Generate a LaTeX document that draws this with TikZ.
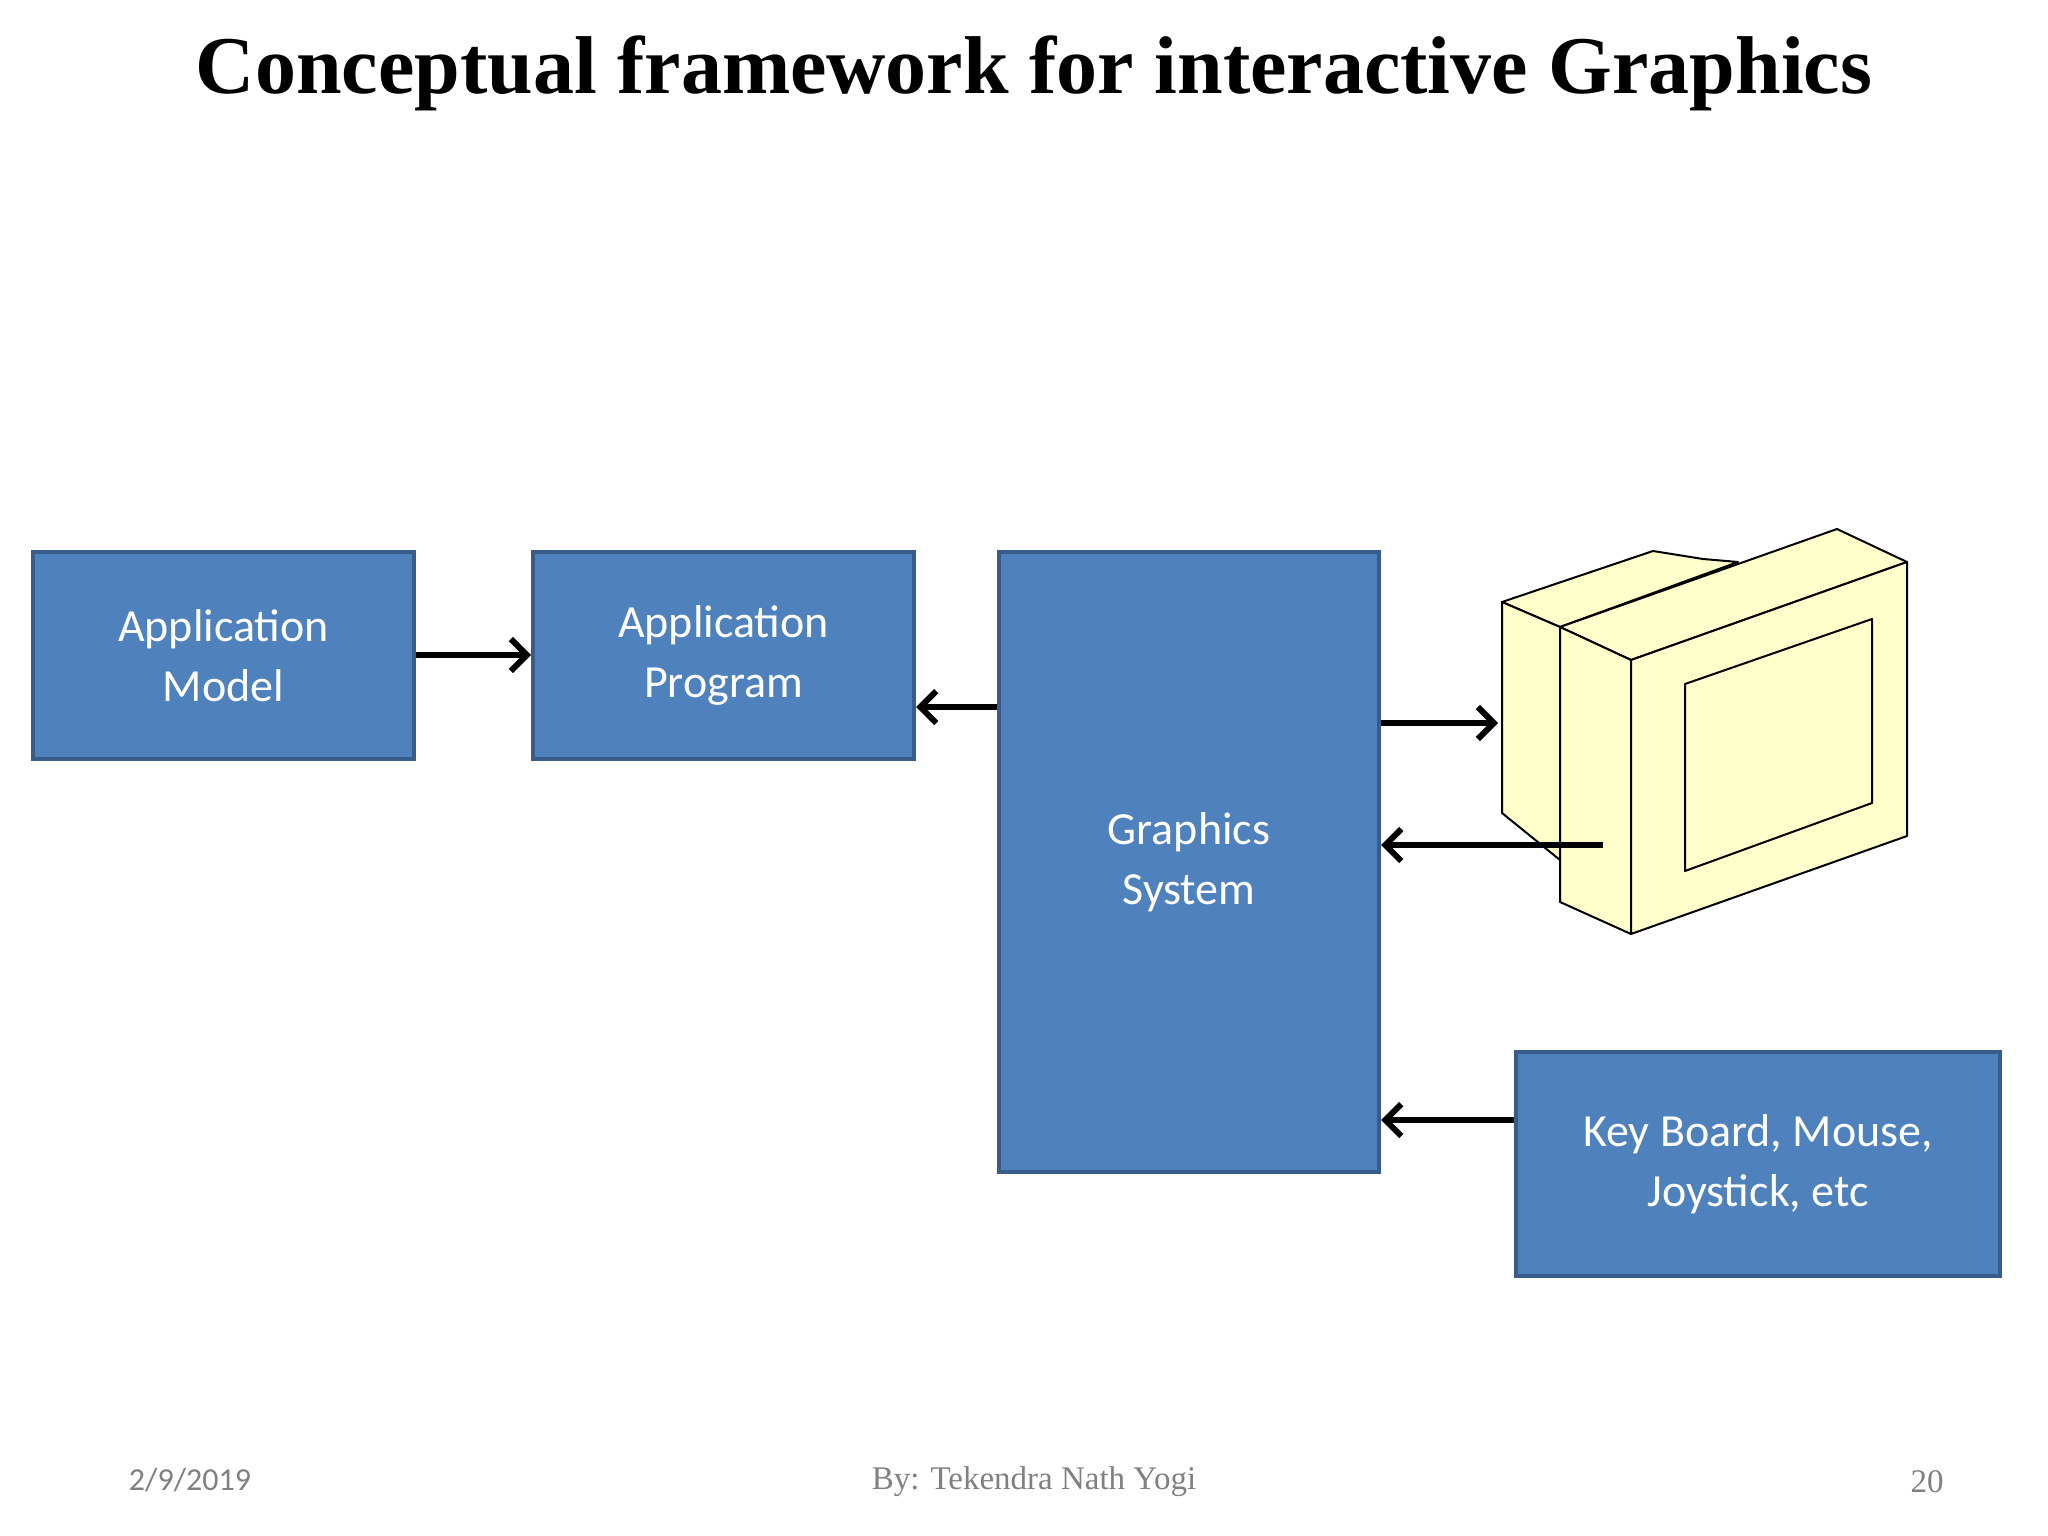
\documentclass[tikz,border=0pt]{standalone}
\usepackage{fontspec}
\setmainfont{Liberation Serif}
\newfontfamily\carl{Carlito}
\usetikzlibrary{arrows.meta}
\definecolor{boxf}{HTML}{4F81BD}
\definecolor{boxd}{HTML}{385D8A}
\definecolor{mon}{HTML}{FFFFCC}
\begin{document}
\begin{tikzpicture}[x=1pt,y=-1pt,
 box/.style={draw=boxd,line width=4pt,fill=boxf,text=white,align=center,font=\carl\fontsize{46}{60}\selectfont},
 arr/.style={line width=6pt,-{Straight Barb[length=16pt,width=32pt,line width=6pt]}},
 mn/.style={draw=black,line width=2pt,fill=mon,line join=round}]
\useasboundingbox[fill=white] (0,0) rectangle (2048,1536);
\node[font=\bfseries\fontsize{82}{90}\selectfont] (title) at (1034,73) {Conceptual framework for interactive Graphics};
\node[box,minimum width=381pt,minimum height=207pt] (am) at (223.5,655.5) {Application\\Model};
\node[box,minimum width=381pt,minimum height=207pt] (ap) at (723.5,655.5) {Application\\Program};
\node[box,minimum width=380pt,minimum height=620pt] (gs) at (1189,862) {Graphics\\System};
\node[box,minimum width=484pt,minimum height=224pt] (kb) at (1758,1164) {Key Board, Mouse,\\Joystick, etc};
% monitor
\path[mn] (1502,602) -- (1653,551) -- (1703,559) -- (1738,562) -- (1560,627) -- cycle;
\path[mn] (1502,602) -- (1560,627) -- (1560,860) -- (1502,813) -- cycle;
\path[mn] (1560,627) -- (1837,529) -- (1907,562) -- (1631,660) -- cycle;
\path[mn] (1560,627) -- (1631,660) -- (1631,934) -- (1560,902) -- cycle;
\path[mn] (1631,660) -- (1907,562) -- (1907,836) -- (1631,934) -- cycle;
\path[mn] (1685,684) -- (1872,619) -- (1872,803) -- (1685,871) -- cycle;
\coordinate (mi) at (1498,723);
\coordinate (mo) at (1603,845);
\draw[arr] (am.east |- 0,655) -- (ap.west |- 0,655);
\draw[arr] (gs.west |- 0,707) -- (ap.east |- 0,707);
\draw[arr] (gs.east |- 0,723) -- (mi);
\draw[arr] (mo) -- (gs.east |- 0,845);
\draw[arr] (kb.west |- 0,1120) -- (gs.east |- 0,1120);
\node[font=\carl\fontsize{32}{36}\selectfont,text=gray] (date) at (190,1480) {2/9/2019};
\node[font=\fontsize{33}{36}\selectfont,text=gray] (by) at (1034,1482) {By: Tekendra Nath Yogi};
\node[font=\fontsize{33}{36}\selectfont,text=gray] (pg) at (1927,1482) {20};
\end{tikzpicture}
\end{document}
